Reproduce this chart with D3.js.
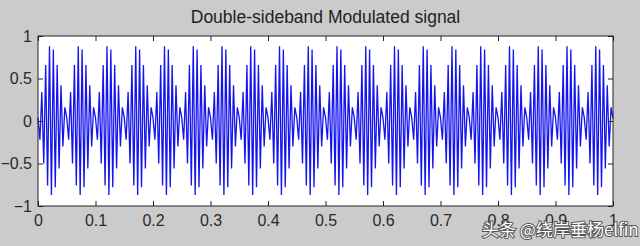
<!DOCTYPE html>
<html>
<head>
<meta charset="utf-8">
<script src="https://cdn.jsdelivr.net/npm/d3@7"></script>
<style>
  body { margin: 0; background: #cbcbcb; }
  svg { display: block; }
</style>
</head>
<body>
<div id="chart"></div>
<script>
// chart size
const width = 640,
  height = 246;
const margin = { top: 36, right: 27, bottom: 40, left: 38 };

// data
// envelope nulls of the modulated signal (one lobe every 0.05 s)
const lobeStarts = [0, 0.05, 0.1, 0.15, 0.2, 0.25, 0.3, 0.35, 0.4, 0.45,
  0.5, 0.55, 0.6, 0.65, 0.7, 0.75, 0.8, 0.85, 0.9, 0.95];
// peaks of the carrier inside one lobe (alternating up / down)
const lobePeaks = [0.04, -0.22, 0.34, -0.5, 0.66, -0.76, 0.88, -0.87,
  0.84, -0.78, 0.66, -0.56, 0.42, -0.3, 0.16];
const lobeLength = 0.05;
const endValue = 0.03;

const xTicks = [0, 0.1, 0.2, 0.3, 0.4, 0.5, 0.6, 0.7, 0.8, 0.9, 1];
const yTicks = [-1, -0.5, 0, 0.5, 1];

const svg = d3.select("#chart")
  .append("svg")
  .attr("width", width)
  .attr("height", height);

const x = d3.scaleLinear()
  .domain([0, 1])
  .range([margin.left, width - margin.right]);

const y = d3.scaleLinear()
  .domain([-1, 1])
  .range([height - margin.bottom, margin.top]);

// white plot area
svg.append("rect")
  .attr("x", x(0))
  .attr("y", y(1))
  .attr("width", x(1) - x(0))
  .attr("height", y(-1) - y(1))
  .attr("fill", "#fff");

// build the points: every lobe holds the same peaks
const points = [];
lobeStarts.forEach(start => {
  lobePeaks.forEach((v, k) => {
    points.push([start + k * lobeLength / lobePeaks.length, v]);
  });
});
points.push([1, endValue]);

const line = d3.line()
  .x(d => x(d[0]))
  .y(d => y(d[1]));

svg.append("path")
  .datum(points)
  .attr("d", line)
  .attr("fill", "none")
  .attr("stroke", "#1414ee")
  .attr("stroke-width", 1.3);

// axes, MATLAB style ticks inside on all four sides
const tickLen = 5;
svg.append("g")
  .attr("transform", `translate(0,${y(-1)})`)
  .call(d3.axisBottom(x).tickValues(xTicks).tickSize(-tickLen).tickPadding(9)
    .tickFormat(d3.format("")))
  .call(g => g.select(".domain").remove());

svg.append("g")
  .attr("transform", `translate(0,${y(1)})`)
  .call(d3.axisTop(x).tickValues(xTicks).tickSize(-tickLen).tickFormat(""))
  .call(g => g.select(".domain").remove());

svg.append("g")
  .attr("transform", `translate(${x(0)},0)`)
  .call(d3.axisLeft(y).tickValues(yTicks).tickSize(-tickLen).tickPadding(6)
    .tickFormat(d3.format("")))
  .call(g => g.select(".domain").remove());

svg.append("g")
  .attr("transform", `translate(${x(1)},0)`)
  .call(d3.axisRight(y).tickValues(yTicks).tickSize(-tickLen).tickFormat(""))
  .call(g => g.select(".domain").remove());

svg.selectAll(".tick line").attr("stroke", "#222");
svg.selectAll(".tick text")
  .style("font-family", "'Liberation Sans', Arial, sans-serif")
  .style("font-size", "16px")
  .attr("fill", "#2a2a2a");

// box
svg.append("rect")
  .attr("x", x(0))
  .attr("y", y(1))
  .attr("width", x(1) - x(0))
  .attr("height", y(-1) - y(1))
  .attr("fill", "none")
  .attr("stroke", "#222")
  .attr("stroke-width", 1);

// title
svg.append("text")
  .attr("x", (x(0) + x(1)) / 2)
  .attr("y", 23)
  .attr("text-anchor", "middle")
  .style("font-family", "'Liberation Sans', Arial, sans-serif")
  .style("font-size", "17.5px")
  .attr("fill", "#222")
  .text("Double-sideband Modulated signal");

// watermark
svg.append("text")
  .attr("x", 482)
  .attr("y", 236)
  .style("font-family", "'Noto Sans CJK SC', sans-serif")
  .style("font-size", "17px")
  .attr("fill", "#fff")
  .attr("stroke", "#555")
  .attr("stroke-width", 2)
  .attr("paint-order", "stroke")
  .text("头条 @绕岸垂杨elfin");
</script>
</body>
</html>
